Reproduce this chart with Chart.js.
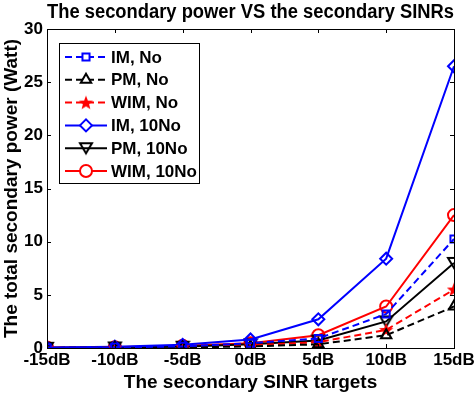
<!DOCTYPE html>
<html><head><meta charset="utf-8">
<script src="https://cdn.jsdelivr.net/npm/chart.js@4/dist/chart.umd.min.js"></script>
<style>html,body{margin:0;padding:0;background:#fff}#w{width:474px;height:395px}</style>
</head><body><div id="w"><canvas id="c" width="474" height="395"></canvas></div>
<script>
const sinrTargets = [-15, -10, -5, 0, 5, 10, 15];
const yTicks = [0, 5, 10, 15, 20, 25, 30];
const imNo    = [0.03, 0.06, 0.15, 0.45, 0.9, 3.2, 10.25];
const pmNo    = [0.01, 0.02, 0.05, 0.15, 0.35, 1.2, 3.9];
const wimNo   = [0.02, 0.04, 0.08, 0.25, 0.55, 1.7, 5.5];
const im10No  = [0.05, 0.12, 0.3, 0.8, 2.7, 8.4, 26.5];
const pm10No  = [0.02, 0.05, 0.12, 0.35, 0.7, 2.5, 8.0];
const wim10No = [0.04, 0.08, 0.2, 0.45, 1.2, 3.9, 12.5];

function mk(draw){const c=document.createElement('canvas');c.width=16;c.height=16;const g=c.getContext('2d');draw(g);return c;}
const starImg = mk(g=>{g.fillStyle='#f00';g.beginPath();for(let i=0;i<10;i++){const r=i%2?3.2:7.5;const a=-Math.PI/2+i*Math.PI/5;g.lineTo(8+r*Math.cos(a),8.5+r*Math.sin(a));}g.closePath();g.fill();});
const downTri = mk(g=>{g.strokeStyle='#000';g.lineWidth=2;g.beginPath();g.moveTo(2,3);g.lineTo(14,3);g.lineTo(8,13);g.closePath();g.stroke();});

function pts(arr){return arr.map((v,i)=>({x:sinrTargets[i],y:v}));}
const FAM = '"Liberation Sans", Arial, sans-serif';
const ds = [
 {label:'IM, No', data:pts(imNo), borderColor:'#00f', borderDash:[7,4], pointStyle:'rect', pointRadius:5},
 {label:'PM, No', data:pts(pmNo), borderColor:'#000', borderDash:[7,4], pointStyle:'triangle', pointRadius:6},
 {label:'WIM, No', data:pts(wimNo), borderColor:'#f00', borderDash:[7,4], pointStyle:starImg, pointRadius:7},
 {label:'IM, 10No', data:pts(im10No), borderColor:'#00f', pointStyle:'rectRot', pointRadius:6},
 {label:'PM, 10No', data:pts(pm10No), borderColor:'#000', pointStyle:downTri, pointRadius:7},
 {label:'WIM, 10No', data:pts(wim10No), borderColor:'#f00', pointStyle:'circle', pointRadius:6},
].map(d=>Object.assign({borderWidth:2, backgroundColor:'rgba(0,0,0,0)', pointBorderColor:d.borderColor, pointBorderWidth:2, pointBackgroundColor:'rgba(0,0,0,0)'},d));

const frame = {
 id:'frame',
 afterDraw(chart){
  const {ctx, chartArea:a, scales:{x,y}} = chart;
  ctx.save();
  ctx.strokeStyle='#000'; ctx.lineWidth=1;
  ctx.strokeRect(a.left+0.5,a.top+0.5,a.right-a.left,a.bottom-a.top);
  ctx.beginPath();
  sinrTargets.forEach(v=>{const px=Math.round(x.getPixelForValue(v))+0.5;ctx.moveTo(px,a.bottom);ctx.lineTo(px,a.bottom-4);ctx.moveTo(px,a.top);ctx.lineTo(px,a.top+4);});
  yTicks.forEach(v=>{const py=Math.round(y.getPixelForValue(v))+0.5;ctx.moveTo(a.left,py);ctx.lineTo(a.left+4,py);ctx.moveTo(a.right,py);ctx.lineTo(a.right-4,py);});
  ctx.stroke();
  // legend
  const lx=59, ly=43, lw=140, lh=140, rowH=22.8;
  ctx.fillStyle='#fff'; ctx.fillRect(lx,ly,lw,lh);
  ctx.strokeRect(lx+0.5,ly+0.5,lw,lh);
  chart.data.datasets.forEach((d,i)=>{
   const cy = ly+14+i*rowH;
   ctx.strokeStyle=d.borderColor; ctx.lineWidth=2;
   ctx.setLineDash(d.borderDash||[]);
   ctx.beginPath(); ctx.moveTo(65,cy); ctx.lineTo(107,cy); ctx.stroke();
   ctx.setLineDash([]);
   ctx.fillStyle='#fff';
   Chart.helpers.drawPoint(ctx,{pointStyle:d.pointStyle,radius:d.pointRadius,borderWidth:2,rotation:0},86,cy);
   ctx.fillStyle='#000'; ctx.font='bold 17px '+FAM; ctx.textBaseline='middle'; ctx.textAlign='left';
   ctx.fillText(d.label,111,cy+1);
  });
  ctx.restore();
 }
};

new Chart(document.getElementById('c'),{
 type:'line',
 data:{datasets:ds},
 options:{
  responsive:false, animation:false,
  layout:{padding:{left:0,right:20,top:0,bottom:0}},
  plugins:{legend:{display:false}, tooltip:{enabled:false},
   title:{display:true,fullSize:false,text:'The secondary power VS the secondary SINRs',color:'#000',font:{family:FAM,size:20,weight:'bold'},padding:{top:0,bottom:5}}},
  scales:{
   x:{type:'linear',min:-15,max:15,
      afterBuildTicks(s){s.ticks=sinrTargets.map(v=>({value:v}));},
      afterFit(s){s.height=47;s.paddingLeft=0;s.paddingRight=0;},
      ticks:{callback:v=>v+'dB',color:'#000',font:{family:FAM,size:17,weight:'bold'},padding:2,maxRotation:0,autoSkip:false},
      grid:{display:false,drawTicks:false,tickLength:0}, border:{display:false},
      title:{display:true,text:'The secondary SINR targets',color:'#000',font:{family:FAM,size:19,weight:'bold'},padding:{top:0,bottom:1}}},
   y:{min:0,max:30,
      afterBuildTicks(s){s.ticks=yTicks.map(v=>({value:v}));},
      afterFit(s){s.width=47;s.paddingTop=0;s.paddingBottom=0;},
      ticks:{color:'#000',font:{family:FAM,size:17,weight:'bold'},padding:4},
      grid:{display:false,drawTicks:false,tickLength:0}, border:{display:false},
      title:{display:true,text:'The total secondary power (Watt)',color:'#000',font:{family:FAM,size:19,weight:'bold'},padding:{top:0,bottom:2}}}
  }
 },
 plugins:[frame]
});
</script></body></html>
